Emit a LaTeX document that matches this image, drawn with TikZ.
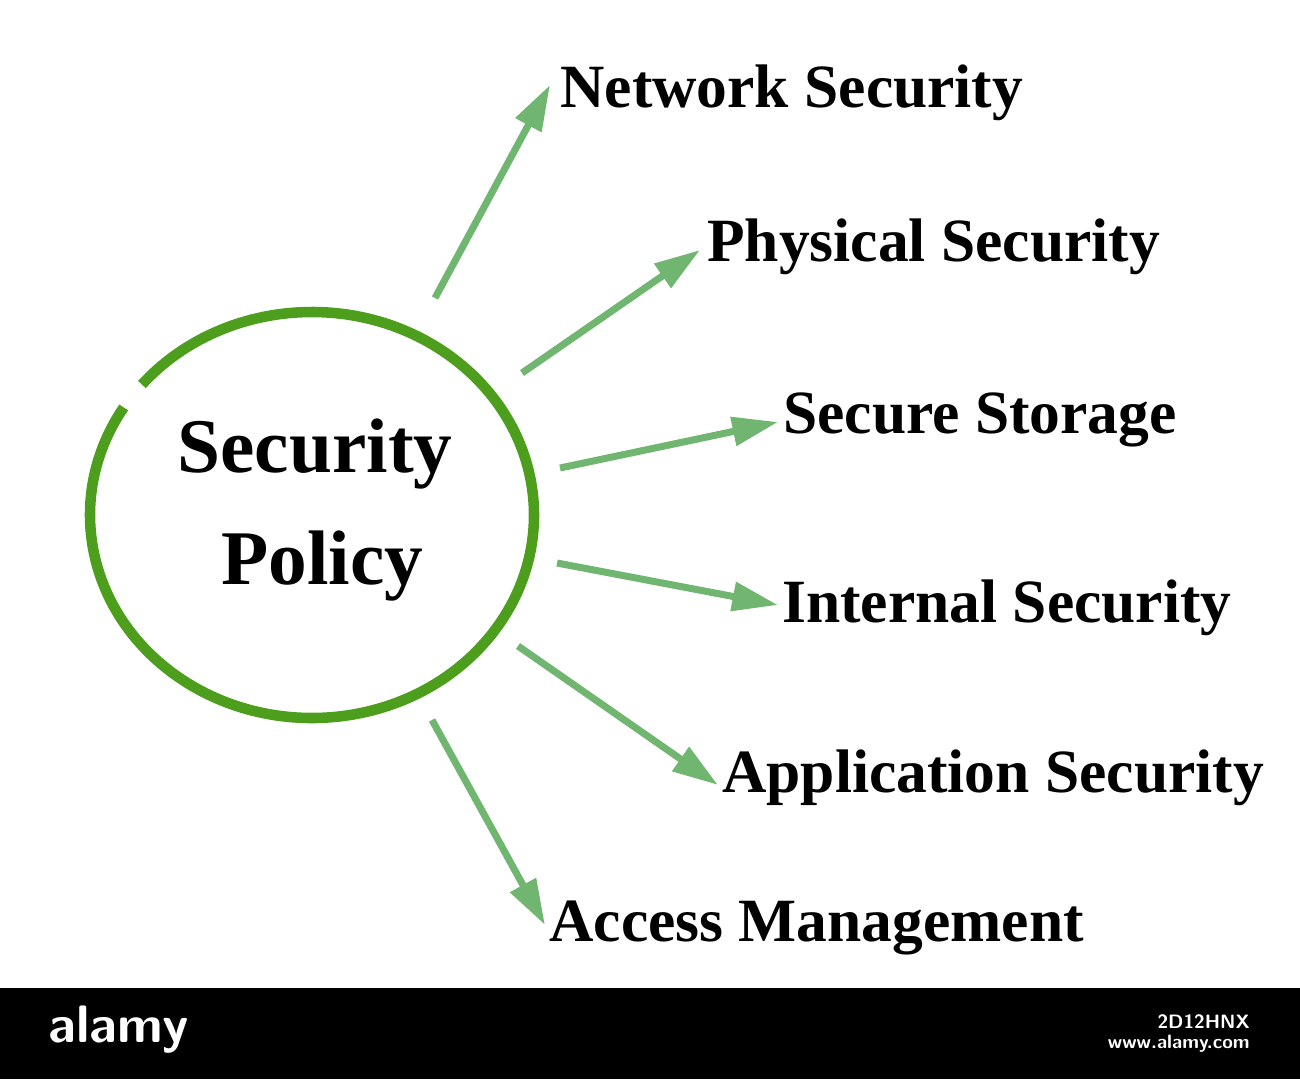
\documentclass[tikz,border=0pt]{standalone}
\usepackage{fontspec}
\setmainfont{Liberation Serif}
\usetikzlibrary{arrows.meta}
\definecolor{ringgreen}{RGB}{76,158,28}
\definecolor{arrowgreen}{RGB}{112,182,112}
\begin{document}
\begin{tikzpicture}[x=0.02cm,y=-0.02cm]
\tikzstyle{every node}+=[inner sep=0pt]
\tikzset{item/.style={anchor=west,font=\fontsize{35}{40}\selectfont\bfseries},
  branch/.style={arrowgreen,line width=4pt,-{Triangle[length=26pt,width=16pt]}}}
\useasboundingbox (0,0) rectangle (1300,1079);
% centre ring
\coordinate (c) at (312,515);
\draw [ringgreen,line width=6pt] (c) ++(-140:222 and 203) arc (-140:212:222 and 203);
\node (pol) at (315,510) [align=center,font=\fontsize{44}{62}\selectfont\bfseries] {Security\\[2pt]\hspace*{8pt}Policy};
% items
\node [item] (net) at (560,93) {Network Security};
\node [item] (phy) at (707,247) {Physical Security};
\node [item] (sto) at (783,420) {Secure Storage};
\node [item] (int) at (782,608) {Internal Security};
\node [item] (app) at (722,778) {Application Security};
\node [item] (acc) at (549,928) {Access Management};
% arrows
\coordinate (s1) at (435,298); \coordinate (e1) at (550,85);
\coordinate (s2) at (522,373); \coordinate (e2) at (700,250);
\coordinate (s3) at (560,468); \coordinate (e3) at (778,422);
\coordinate (s4) at (557,563); \coordinate (e4) at (778,605);
\coordinate (s5) at (518,646); \coordinate (e5) at (718,785);
\coordinate (s6) at (432,720); \coordinate (e6) at (545,925);
\foreach \i in {1,...,6}
  \draw [branch] (s\i) -- (e\i);
% footer bar
\fill [black] (0,988) rectangle (1300,1079);
\node [white,anchor=west,font=\fontsize{30}{30}\selectfont\sffamily\bfseries] (logo) at (48,1030) {alamy};
\node [white,anchor=east,font=\fontsize{11}{11}\selectfont\sffamily\bfseries] (code) at (1250,1022) {2D12HNX};
\node [white,anchor=east,font=\fontsize{11}{11}\selectfont\sffamily\bfseries] (site) at (1250,1044) {www.alamy.com};
\end{tikzpicture}
\end{document}
